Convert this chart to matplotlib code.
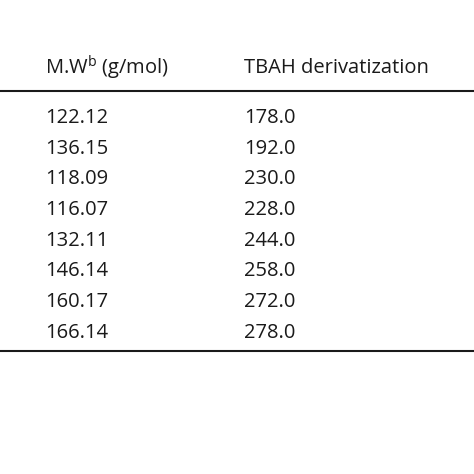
import matplotlib
matplotlib.use("Agg")
import matplotlib.pyplot as plt

header = ["M.W$^{\\mathrm{b}}$ (g/mol)", "TBAH derivatization"]
mw = ["122.12", "136.15", "118.09", "116.07", "132.11", "146.14", "160.17", "166.14"]
tbah = ["178.0", "192.0", "230.0", "228.0", "244.0", "258.0", "272.0", "278.0"]

plt.rcParams['font.family'] = ['Open Sans', 'DejaVu Sans']
plt.rcParams['mathtext.fontset'] = 'custom'
plt.rcParams['mathtext.rm'] = 'Open Sans'
fig = plt.figure(figsize=(4.74, 4.74), dpi=100)
ax = fig.add_axes([0, 0, 1, 1])
ax.set_xlim(0, 474); ax.set_ylim(474, 0); ax.axis('off')
fs = 14.5
col = '#1a1a1a'
ax.text(45, 68, header[0], fontsize=fs, color=col, va='center', ha='left')
ax.text(244, 68, header[1], fontsize=fs, color=col, va='center', ha='left')
ax.plot([0, 474], [91, 91], color=col, lw=1.5)
for i, (a, b) in enumerate(zip(mw, tbah)):
    y = 118 + i * 30.7
    ax.text(45, y, a, fontsize=fs, color=col, va='center', ha='left')
    ax.text(244, y, b, fontsize=fs, color=col, va='center', ha='left')
ax.plot([0, 474], [351, 351], color=col, lw=1.5)
fig.savefig("out.png", dpi=100)
